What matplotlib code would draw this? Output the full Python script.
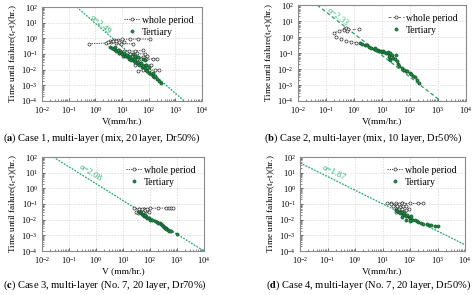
import numpy as np
import matplotlib
matplotlib.use("Agg")
import matplotlib.pyplot as plt
from matplotlib.ticker import LogLocator, LogFormatterMathtext, NullFormatter

plt.rcParams['font.family'] = ['Liberation Serif', 'DejaVu Serif']
plt.rcParams['mathtext.fontset'] = 'stix'

# ---------------- data ----------------
# Panel (a)
a_whole_v = [[0.6, 2.5, 4, 6, 9, 25],
             [3.5, 5, 7, 10, 20, 40, 110],
             [3, 4.5, 6, 8, 12],
             [5, 8, 12, 18, 30, 60],
             [8, 12, 20, 35, 70],
             [12, 20, 35, 60, 90],
             [20, 35, 50, 80, 150, 200],
             [30, 50, 80, 120],
             [40, 60, 100, 180, 250]]
a_whole_t = [[0.45, 0.5, 0.55, 0.5, 0.45, 0.45],
             [0.7, 0.75, 0.8, 0.85, 0.9, 0.9, 0.9],
             [0.6, 0.65, 0.7, 0.6, 0.55],
             [0.2, 0.18, 0.15, 0.16, 0.15, 0.17],
             [0.12, 0.1, 0.1, 0.11, 0.1],
             [0.07, 0.06, 0.065, 0.06, 0.07],
             [0.05, 0.045, 0.05, 0.045, 0.05, 0.05],
             [0.02, 0.022, 0.02, 0.02],
             [0.008, 0.01, 0.009, 0.01, 0.009]]
a_tert_v = [3.5, 4.2, 5, 5.5, 6, 7, 8, 9, 10, 11, 12, 14, 15, 17, 18, 20, 22, 25, 28, 30,
            32, 35, 40, 45, 50, 55, 60, 70, 80, 90, 100, 120, 140, 160, 200, 250, 300,
            40, 60, 70, 25, 30, 80, 100, 150, 180]
a_tert_t = [0.3, 0.25, 0.2, 0.28, 0.15, 0.18, 0.12, 0.14, 0.1, 0.08, 0.11, 0.07, 0.09, 0.06,
            0.05, 0.065, 0.04, 0.05, 0.035, 0.045, 0.03, 0.025, 0.03, 0.02, 0.025, 0.015,
            0.018, 0.012, 0.01, 0.008, 0.006, 0.005, 0.004, 0.0035, 0.0025, 0.002, 0.0015,
            0.06, 0.05, 0.04, 0.1, 0.08, 0.02, 0.015, 0.006, 0.004]
a_fit_v = [0.2, 2150]
a_fit_t = [100, 1e-4]
a_alpha = "α=2.49"

# Panel (b)
b_whole_v = [[0.2, 0.3, 0.45, 0.5, 0.55, 1.5],
             [0.22, 0.35, 0.5, 0.8, 1.2],
             [0.45, 0.5, 0.6, 0.55]]
b_whole_t = [[1.8, 2.5, 3.0, 3.2, 2.8, 3.0],
             [1.0, 0.8, 0.6, 0.5, 0.45],
             [2.6, 3.5, 3.0, 2.4]]
b_tert_v = [1.6, 2, 2.5, 3, 3.5, 4, 5, 5.5, 6, 7, 8, 9, 10, 11, 12, 14, 16, 18, 18, 19, 20,
            20, 22, 25, 28, 32, 35, 38, 42, 50, 60, 70, 80, 100, 110, 130, 150, 180, 210]
b_tert_t = [0.42, 0.35, 0.3, 0.3, 0.25, 0.22, 0.17, 0.2, 0.15, 0.16, 0.14, 0.13, 0.12, 0.14,
            0.11, 0.1, 0.12, 0.08, 0.06, 0.045, 0.035, 0.1, 0.07, 0.05, 0.04, 0.08, 0.03,
            0.02, 0.015, 0.012, 0.009, 0.008, 0.007, 0.006, 0.005, 0.0035, 0.003, 0.002,
            0.0014]
b_fit_v = [0.048, 1260]
b_fit_t = [100, 1e-4]
b_alpha = "α=2.33"

# Panel (c)
c_whole_v = [[25, 40, 60, 100, 200, 400, 500, 600, 700],
             [30, 40, 50, 60, 80],
             [35, 45, 55, 70, 90],
             [40, 50, 65, 80]]
c_whole_t = [[0.055, 0.05, 0.05, 0.052, 0.055, 0.055, 0.055, 0.055, 0.055],
             [0.03, 0.035, 0.04, 0.045, 0.04],
             [0.025, 0.03, 0.03, 0.035, 0.03],
             [0.045, 0.05, 0.04, 0.045]]
c_tert_v = [40, 45, 50, 55, 60, 65, 70, 80, 90, 100, 120, 150, 180, 200, 230, 250, 270,
            300, 320, 350, 380, 400, 450, 500, 600, 1000]
c_tert_t = [0.03, 0.025, 0.022, 0.02, 0.018, 0.02, 0.015, 0.013, 0.012, 0.01, 0.009, 0.008,
            0.007, 0.006, 0.006, 0.005, 0.0045, 0.004, 0.0035, 0.003, 0.0028, 0.0025,
            0.0022, 0.002, 0.0018, 0.0012]
c_fit_v = [0.026, 1e4]
c_fit_t = [100, 1e-4]
c_alpha = "α=2.08"

# Panel (d)
d_whole_v = [[14, 20, 30, 50, 100, 200, 300],
             [20, 30, 40, 50, 60],
             [25, 35, 45, 55, 70],
             [30, 40, 50, 70, 90],
             [30, 40, 60]]
d_whole_t = [[0.12, 0.12, 0.12, 0.12, 0.12, 0.12, 0.12],
             [0.1, 0.09, 0.1, 0.11, 0.1],
             [0.07, 0.08, 0.06, 0.07, 0.08],
             [0.05, 0.045, 0.05, 0.04, 0.05],
             [0.03, 0.035, 0.03]]
d_tert_v = [30, 35, 40, 45, 50, 55, 60, 70, 80, 90, 100, 110, 120, 150, 180, 200, 250, 300,
            400, 500, 600, 800, 1000, 50, 70, 100]
d_tert_t = [0.04, 0.035, 0.03, 0.025, 0.03, 0.02, 0.025, 0.018, 0.02, 0.015, 0.012, 0.016,
            0.01, 0.009, 0.008, 0.007, 0.006, 0.0055, 0.005, 0.0048, 0.0045, 0.004, 0.004,
            0.015, 0.01, 0.008]
d_fit_v = [0.01, 1e4]
d_fit_t = [42, 0.00025]
d_alpha = "α=1.87"

xlabels = ["V(mm/hr.)", "V(mm/hr.)", "V (mm/hr.)", "V(mm/hr.)"]
captions = [("a", "Case 1, multi-layer (mix, 20 layer, Dr50%)"),
            ("b", "Case 2, multi-layer (mix, 10 layer, Dr50%)"),
            ("c", "Case 3, multi-layer (No. 7, 20 layer, Dr70%)"),
            ("d", "Case 4, multi-layer (No. 7, 20 layer, Dr50%)")]
ylabel = "Time until failure(t$_\\mathrm{r}$-t)(hr.)"

# ---------------- figure ----------------
W, H = 474, 295
fig = plt.figure(figsize=(W / 100, H / 100), dpi=100)

def box(l, t, r, b):
    return [l / W, 1 - b / H, (r - l) / W, (b - t) / H]

boxes = [box(42, 7, 202, 101), box(298, 5, 466, 101),
         box(42, 157, 204, 251), box(300, 157, 465, 251)]
cap_pos = [(3, 138), (264, 138), (3, 285), (266, 285)]
label_pos = [(1.6, 7.5), (0.27, 17.0), (0.6, 9.5), (0.17, 9.5)]

panels = [
    (a_whole_v, a_whole_t, a_tert_v, a_tert_t, a_fit_v, a_fit_t, a_alpha),
    (b_whole_v, b_whole_t, b_tert_v, b_tert_t, b_fit_v, b_fit_t, b_alpha),
    (c_whole_v, c_whole_t, c_tert_v, c_tert_t, c_fit_v, c_fit_t, c_alpha),
    (d_whole_v, d_whole_t, d_tert_v, d_tert_t, d_fit_v, d_fit_t, d_alpha),
]

line_green = '#22aa6c'
mk_green = '#1f8a45'
mk_edge = '#0c4d25'

for i, (wv, wt, tv, tt, fv, ft, alpha) in enumerate(panels):
    ax = fig.add_axes(boxes[i])
    ax.set_xscale('log')
    ax.set_yscale('log')
    ax.set_xlim(1e-2, 1e4)
    ax.set_ylim(1e-4, 1e2)
    ax.grid(True, which='major', color='#d2d2d2', linestyle=(0, (2, 2)), linewidth=0.5)
    for s in ax.spines.values():
        s.set_color('#8a8a8a')
        s.set_linewidth(0.8)
    ax.xaxis.set_major_locator(LogLocator(base=10, numticks=10))
    ax.yaxis.set_major_locator(LogLocator(base=10, numticks=10))
    ax.xaxis.set_major_formatter(LogFormatterMathtext())
    ax.yaxis.set_major_formatter(LogFormatterMathtext())
    ax.xaxis.set_minor_locator(LogLocator(base=10, subs=np.arange(2, 10), numticks=20))
    ax.yaxis.set_minor_locator(LogLocator(base=10, subs=np.arange(2, 10), numticks=20))
    ax.xaxis.set_minor_formatter(NullFormatter())
    ax.yaxis.set_minor_formatter(NullFormatter())
    ax.tick_params(which='major', direction='in', length=2.5, width=0.6, color='#555555',
                   labelsize=6, pad=3)
    ax.tick_params(which='minor', direction='in', length=1.5, width=0.5, color='#555555')
    ax.set_axisbelow(True)

    ls_whole = (0, (1.2, 1.2)) if i != 1 else (0, (3, 2))
    wcol = '#3a3a3a' if i != 1 else '#707070'
    first = True
    for vv, ttt in zip(wv, wt):
        ax.plot(vv, ttt, linestyle=ls_whole, color=wcol, linewidth=0.7,
                marker='o', markersize=2.2, markerfacecolor='white',
                markeredgecolor='#333333', markeredgewidth=0.5,
                label='whole period' if first else None, zorder=3)
        first = False
    ax.plot(tv, tt, linestyle='none', marker='o', markersize=2.3,
            markerfacecolor=mk_green, markeredgecolor=mk_edge, markeredgewidth=0.4,
            label='Tertiary', zorder=4)
    fit_ls = (0, (1.5, 1)) if i != 1 else (0, (3, 2))
    fit_col = line_green if i != 1 else '#2a9d60'
    ax.plot(fv, ft, linestyle=fit_ls, color=fit_col, linewidth=0.9, zorder=2)

    # rotate label along the fit line
    p1 = ax.transData.transform((fv[0], ft[0]))
    p2 = ax.transData.transform((fv[1], ft[1]))
    ang = np.degrees(np.arctan2(p2[1] - p1[1], p2[0] - p1[0]))
    lx, ly = label_pos[i]
    ax.text(lx, ly, alpha, color='#3cc08a' if i == 1 else line_green, fontsize=6.3,
            rotation=ang, rotation_mode='anchor', ha='center', va='center', zorder=5)

    ax.set_xlabel(xlabels[i], fontsize=6.8, labelpad=1)
    ax.set_ylabel(ylabel, fontsize=6.6, labelpad=2)

    leg = ax.legend(loc='upper right', frameon=False, fontsize=7.0, handlelength=1.6,
                    handletextpad=0.2, borderaxespad=0.5, labelspacing=0.3)

    cx, cy = cap_pos[i]
    letter, rest = captions[i]
    fig.text(cx / W, 1 - cy / H, "($\\mathbf{%s}$) %s" % (letter, rest),
             fontsize=7.6, ha='left', va='center')

fig.savefig("out.png", dpi=100)
